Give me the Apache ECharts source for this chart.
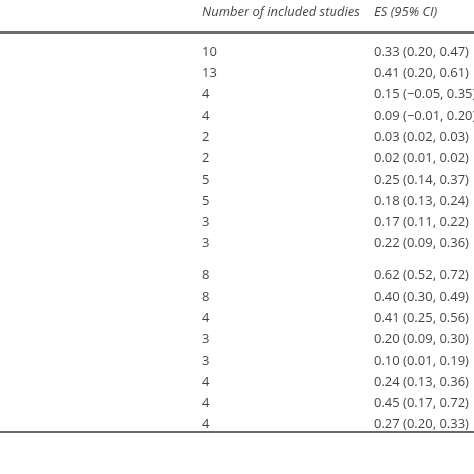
<!DOCTYPE html>
<html><head><meta charset="utf-8">
<script src="https://cdn.jsdelivr.net/npm/echarts@6/dist/echarts.min.js"></script>
<style>html,body{margin:0;padding:0;background:#fff}#c{width:474px;height:474px}</style>
</head><body><div id="c"></div>
<script>
const headers = ["Number of included studies", "ES (95% CI)"];
const labels = ["", "", "ls*", "ys*", "children/adolescents**", "ious children/adolescents**", "", "-", "us children**", "nxious children**",
  "", "", "rls*", "", "*", "*", "", ""];
const studies = ["10","13","4","4","2","2","5","5","3","3","8","8","4","3","3","4","4","4"];
const es = ["0.33 (0.20, 0.47)","0.41 (0.20, 0.61)","0.15 (\u22120.05, 0.35)","0.09 (\u22120.01, 0.20)","0.03 (0.02, 0.03)","0.02 (0.01, 0.02)","0.25 (0.14, 0.37)","0.18 (0.13, 0.24)","0.17 (0.11, 0.22)","0.22 (0.09, 0.36)",
  "0.62 (0.52, 0.72)","0.40 (0.30, 0.49)","0.41 (0.25, 0.56)","0.20 (0.09, 0.30)","0.10 (0.01, 0.19)","0.24 (0.13, 0.36)","0.45 (0.17, 0.72)","0.27 (0.20, 0.33)"];
const rowPos = [0,1,2,3,4,5,6,7,8,9,10.5,11.5,12.5,13.5,14.5,15.5,16.5,17.5];
const footnote = "y groups";

const colX = [-5, 197, 369];
const font = "'Open Sans', 'Noto Sans', sans-serif";
const txt = '#111';
function textSeries(name, x, rows, vals, italic, size) {
  return {
    type: 'scatter', name, symbolSize: 0, silent: true,
    data: rows.map((r, i) => ({ value: [x, r], name: vals[i] })),
    label: { show: true, position: 'insideLeft', formatter: p => p.name, color: txt,
      fontFamily: font, fontSize: size || 13, fontStyle: italic ? 'italic' : 'normal', align: 'left', verticalAlign: 'middle' }
  };
}
const chart = echarts.init(document.getElementById('c'));
chart.setOption({
  animation: false,
  grid: { left: 0, right: 0, top: 0, bottom: 0 },
  xAxis: { type: 'value', min: 0, max: 474, show: false },
  yAxis: { type: 'value', inverse: true, min: -52 / 21.3, max: (474 - 52) / 21.3, show: false },
  series: [
    textSeries('labels', colX[0], rowPos, labels),
    textSeries('studies', colX[1], rowPos, studies),
    textSeries('es', colX[2], rowPos, es),
    textSeries('header1', colX[1], [-1.88], [headers[0]], true),
    textSeries('header2', colX[2], [-1.88], [headers[1]], true),
    textSeries('foot', colX[0], [19.3], [footnote]),
    { type: 'line', data: [], silent: true,
      markLine: { symbol: 'none', silent: true, label: { show: false },
        data: [
          { yAxis: -0.94, lineStyle: { color: '#6b6b6b', width: 3, type: 'solid' } },
          { yAxis: 17.84, lineStyle: { color: '#333', width: 1.5, type: 'solid' } }
        ] } }
  ]
});
</script></body></html>
